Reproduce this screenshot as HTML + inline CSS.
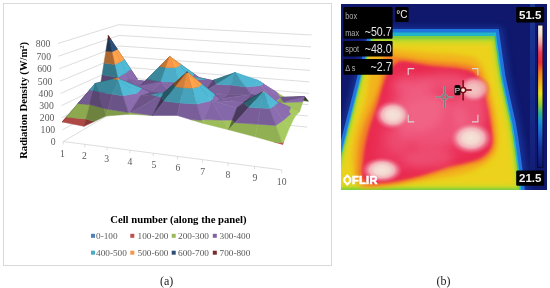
<!DOCTYPE html>
<html><head><meta charset="utf-8"><title>Radiation density and thermal image</title>
<style>
html,body{margin:0;padding:0;background:#fff;}
body{width:550px;height:288px;overflow:hidden;position:relative;}
svg{display:block;position:absolute;left:0;top:0;}
.ser{font-family:"Liberation Serif","Times New Roman",serif;}
.san{font-family:"Liberation Sans",Arial,sans-serif;}
</style></head><body>
<svg width="550" height="288" viewBox="0 0 550 288">
<defs>
<clipPath id="tclip"><rect x="341" y="4" width="206" height="186"/></clipPath>
<filter id="b1" x="-30%" y="-30%" width="160%" height="160%"><feGaussianBlur stdDeviation="0.7"/></filter>
<filter id="b2" x="-30%" y="-30%" width="160%" height="160%"><feGaussianBlur stdDeviation="1.4"/></filter>
<filter id="b3" x="-30%" y="-30%" width="160%" height="160%"><feGaussianBlur stdDeviation="2.2"/></filter>
<filter id="b4" x="-30%" y="-30%" width="160%" height="160%"><feGaussianBlur stdDeviation="3.2"/></filter>
<filter id="b5" x="-30%" y="-30%" width="160%" height="160%"><feGaussianBlur stdDeviation="5"/></filter>
<linearGradient id="cbar" x1="0" y1="0" x2="0" y2="1">
<stop offset="0" stop-color="#fbf3e6"/><stop offset="0.06" stop-color="#f7e0d2"/><stop offset="0.12" stop-color="#f2a0a0"/>
<stop offset="0.19" stop-color="#ee3a5c"/><stop offset="0.26" stop-color="#ea2a36"/><stop offset="0.33" stop-color="#f07a22"/>
<stop offset="0.42" stop-color="#f2b81c"/><stop offset="0.48" stop-color="#e8e01c"/><stop offset="0.55" stop-color="#9ad034"/>
<stop offset="0.62" stop-color="#30b090"/><stop offset="0.68" stop-color="#1a90d8"/><stop offset="0.76" stop-color="#1d60d0"/>
<stop offset="0.86" stop-color="#1534a0"/><stop offset="1" stop-color="#0d1670"/></linearGradient>
<radialGradient id="hs"><stop offset="0" stop-color="#f5e4da"/><stop offset="0.35" stop-color="#f4d8d0"/><stop offset="0.6" stop-color="#f2b0b8"/><stop offset="0.82" stop-color="#ee6e8a" stop-opacity="0.6"/><stop offset="1" stop-color="#ea4a6a" stop-opacity="0"/></radialGradient>
<linearGradient id="rband" x1="0" y1="0" x2="0" y2="1"><stop offset="0" stop-color="#1d3a98"/><stop offset="0.6" stop-color="#152a86"/><stop offset="1" stop-color="#101c70"/></linearGradient>
</defs>
<rect x="0" y="0" width="550" height="288" fill="#ffffff"/>
<!-- chart frame -->
<rect x="3.5" y="3.5" width="328" height="262" fill="#ffffff" stroke="#d9d9d9" stroke-width="1"/>
<!-- walls gridlines -->
<path d="M63.2 141.5L121.0 107.7L307.2 127.1M62.6 129.7L120.7 97.6L307.8 116.0M61.9 117.7L120.4 87.4L308.3 104.7M61.3 105.7L120.1 77.2L308.9 93.4M60.6 93.5L119.8 66.9L309.4 81.9M59.9 81.2L119.5 56.5L310.0 70.4M59.2 68.8L119.2 46.0L310.6 58.7M58.5 56.2L118.9 35.4L311.2 46.9M57.9 43.5L118.5 24.7L311.7 35.0" fill="none" stroke="#d9d9d9" stroke-width="0.9"/>
<path d="M63.2 141.5L281.7 169.9M63.2 141.5l0 3M84.8 144.3l0 3M107.0 147.2l0 3M129.8 150.2l0 3M153.3 153.2l0 3M177.5 156.3l0 3M202.4 159.6l0 3M228.0 162.9l0 3M254.5 166.3l0 3M281.7 169.9l0 3" fill="none" stroke="#d9d9d9" stroke-width="0.9"/>
<!-- surface -->
<g>
<polygon points="137.24,79.05 139.17,81.95 120.10,77.21 120.10,77.21" fill="#36411f" stroke="#36411f" stroke-width="0.5"/>
<polygon points="130.71,69.27 137.24,79.05 120.10,77.21 120.10,77.21 117.47,67.94" fill="#2c2338" stroke="#2c2338" stroke-width="0.5"/>
<polygon points="124.07,59.30 130.71,69.27 117.47,67.94 114.78,58.44" fill="#1a3c45" stroke="#1a3c45" stroke-width="0.5"/>
<polygon points="117.31,49.16 124.07,59.30 114.78,58.44 112.02,48.70" fill="#563418" stroke="#563418" stroke-width="0.5"/>
<polygon points="110.42,38.82 117.31,49.16 112.02,48.70 109.19,38.73" fill="#0f1a28" stroke="#0f1a28" stroke-width="0.5"/>
<polygon points="108.33,35.69 110.42,38.82 109.19,38.73" fill="#290f0e" stroke="#290f0e" stroke-width="0.5"/>
<polygon points="148.99,81.62 158.58,82.61 139.17,81.95 135.04,80.96" fill="#819c4a" stroke="#819c4a" stroke-width="0.5"/>
<polygon points="129.32,79.59 148.99,81.62 135.04,80.96" fill="#6b5387" stroke="#6b5387" stroke-width="0.5"/>
<polygon points="135.04,80.96 139.17,81.95 137.24,79.05" fill="#a8cb61" stroke="#a8cb61" stroke-width="0.5"/>
<polygon points="126.10,72.87 129.32,79.59 135.04,80.96 137.24,79.05 130.71,69.27" fill="#8b6db0" stroke="#8b6db0" stroke-width="0.5"/>
<polygon points="120.73,61.64 126.10,72.87 130.71,69.27 124.07,59.30" fill="#51bbd7" stroke="#51bbd7" stroke-width="0.5"/>
<polygon points="115.35,50.37 120.73,61.64 124.07,59.30 117.31,49.16" fill="#ffa34c" stroke="#ffa34c" stroke-width="0.5"/>
<polygon points="109.95,39.08 115.35,50.37 117.31,49.16 110.42,38.82" fill="#2f537f" stroke="#2f537f" stroke-width="0.5"/>
<polygon points="108.33,35.69 109.95,39.08 110.42,38.82" fill="#812f2d" stroke="#812f2d" stroke-width="0.5"/>
<polygon points="149.43,85.67 149.43,85.67 158.58,82.61 148.99,81.62" fill="#9dbe5a" stroke="#9dbe5a" stroke-width="0.5"/>
<polygon points="129.32,79.59 149.43,85.67 149.43,85.67 148.99,81.62" fill="#8265a5" stroke="#8265a5" stroke-width="0.5"/>
<polygon points="161.37,80.75 158.58,82.61 159.28,80.95" fill="#36411f" stroke="#36411f" stroke-width="0.5"/>
<polygon points="175.53,71.31 161.37,80.75 159.28,80.95 162.85,72.49" fill="#2c2338" stroke="#2c2338" stroke-width="0.5"/>
<polygon points="174.12,63.02 178.41,69.39 175.53,71.31 162.85,72.49 166.57,63.69" fill="#1a3c45" stroke="#1a3c45" stroke-width="0.5"/>
<polygon points="169.65,56.38 174.12,63.02 166.57,63.69" fill="#563418" stroke="#563418" stroke-width="0.5"/>
<polygon points="149.43,85.67 149.43,85.67 159.28,80.95 158.58,82.61" fill="#36411f" stroke="#36411f" stroke-width="0.5"/>
<polygon points="149.43,85.67 156.53,75.38 162.85,72.49 159.28,80.95 149.43,85.67" fill="#2c2338" stroke="#2c2338" stroke-width="0.5"/>
<polygon points="156.53,75.38 163.77,64.91 166.57,63.69 162.85,72.49" fill="#1a3c45" stroke="#1a3c45" stroke-width="0.5"/>
<polygon points="163.77,64.91 169.65,56.38 166.57,63.69" fill="#563418" stroke="#563418" stroke-width="0.5"/>
<polygon points="193.72,73.76 198.90,77.49 185.20,72.08" fill="#2c2338" stroke="#2c2338" stroke-width="0.5"/>
<polygon points="180.51,64.22 193.72,73.76 185.20,72.08 178.41,69.39 174.12,63.02" fill="#1a3c45" stroke="#1a3c45" stroke-width="0.5"/>
<polygon points="169.65,56.38 180.51,64.22 174.12,63.02" fill="#563418" stroke="#563418" stroke-width="0.5"/>
<polygon points="118.88,82.63 129.32,79.59 126.10,72.87 117.71,77.42" fill="#8b6db0" stroke="#8b6db0" stroke-width="0.5"/>
<polygon points="126.10,72.87 120.73,61.64 114.81,64.53 117.71,77.42" fill="#51bbd7" stroke="#51bbd7" stroke-width="0.5"/>
<polygon points="120.73,61.64 115.35,50.37 111.96,51.86 114.81,64.53" fill="#ffa34c" stroke="#ffa34c" stroke-width="0.5"/>
<polygon points="115.35,50.37 109.95,39.08 109.16,39.39 111.96,51.86" fill="#2f537f" stroke="#2f537f" stroke-width="0.5"/>
<polygon points="109.95,39.08 108.33,35.69 109.16,39.39" fill="#812f2d" stroke="#812f2d" stroke-width="0.5"/>
<polygon points="149.43,85.67 149.43,85.67 149.43,85.67" fill="#9bbb59" stroke="#9bbb59" stroke-width="0.5"/>
<polygon points="139.56,86.72 149.43,85.67 129.32,79.59" fill="#8064a2" stroke="#8064a2" stroke-width="0.5"/>
<polygon points="99.22,92.88 108.07,88.27 100.18,86.86" fill="#6b823e" stroke="#6b823e" stroke-width="0.5"/>
<polygon points="108.07,88.27 118.88,82.63 117.71,77.42 102.09,74.85 100.18,86.86" fill="#594570" stroke="#594570" stroke-width="0.5"/>
<polygon points="117.71,77.42 114.81,64.53 103.99,62.91 102.09,74.85" fill="#347789" stroke="#347789" stroke-width="0.5"/>
<polygon points="114.81,64.53 111.96,51.86 105.88,51.04 103.99,62.91" fill="#ac6830" stroke="#ac6830" stroke-width="0.5"/>
<polygon points="111.96,51.86 109.16,39.39 107.77,39.22 105.88,51.04" fill="#1e3551" stroke="#1e3551" stroke-width="0.5"/>
<polygon points="109.16,39.39 108.33,35.69 107.77,39.22" fill="#521e1d" stroke="#521e1d" stroke-width="0.5"/>
<polygon points="212.60,80.58 219.82,83.57 198.90,77.49" fill="#7a609b" stroke="#7a609b" stroke-width="0.5"/>
<polygon points="192.58,77.18 198.90,77.49 193.72,73.76" fill="#8b6db0" stroke="#8b6db0" stroke-width="0.5"/>
<polygon points="179.65,66.11 190.94,77.10 192.58,77.18 193.72,73.76 180.51,64.22" fill="#51bbd7" stroke="#51bbd7" stroke-width="0.5"/>
<polygon points="169.65,56.38 179.65,66.11 180.51,64.22" fill="#ffa34c" stroke="#ffa34c" stroke-width="0.5"/>
<polygon points="118.88,82.63 139.56,86.72 129.32,79.59" fill="#7c609d" stroke="#7c609d" stroke-width="0.5"/>
<polygon points="149.43,85.67 149.43,85.67 149.43,85.67" fill="#36411f" stroke="#36411f" stroke-width="0.5"/>
<polygon points="139.56,86.72 147.15,79.07 156.53,75.38 149.43,85.67" fill="#2c2338" stroke="#2c2338" stroke-width="0.5"/>
<polygon points="147.15,79.07 159.70,66.42 163.77,64.91 156.53,75.38" fill="#1a3c45" stroke="#1a3c45" stroke-width="0.5"/>
<polygon points="159.70,66.42 169.65,56.38 163.77,64.91" fill="#563418" stroke="#563418" stroke-width="0.5"/>
<polygon points="205.32,79.41 212.60,80.58 198.90,77.49 192.58,77.18" fill="#765c96" stroke="#765c96" stroke-width="0.5"/>
<polygon points="190.94,77.10 205.32,79.41 192.58,77.18" fill="#459fb7" stroke="#459fb7" stroke-width="0.5"/>
<polygon points="241.46,76.53 241.46,76.53 219.82,83.57 227.19,78.25" fill="#513f66" stroke="#513f66" stroke-width="0.5"/>
<polygon points="234.99,72.63 241.46,76.53 241.46,76.53 227.19,78.25" fill="#2f6d7d" stroke="#2f6d7d" stroke-width="0.5"/>
<polygon points="108.07,88.27 99.22,92.88 103.88,91.59" fill="#5f7336" stroke="#5f7336" stroke-width="0.5"/>
<polygon points="107.81,90.50 118.88,82.63 108.07,88.27 103.88,91.59" fill="#4f3d64" stroke="#4f3d64" stroke-width="0.5"/>
<polygon points="212.60,80.58 213.89,80.12 227.19,78.25 219.82,83.57" fill="#4f3e65" stroke="#4f3e65" stroke-width="0.5"/>
<polygon points="213.89,80.12 234.99,72.63 227.19,78.25" fill="#2e6b7b" stroke="#2e6b7b" stroke-width="0.5"/>
<polygon points="87.82,104.33 87.82,104.33 87.82,104.33" fill="#6b2c2b" stroke="#6b2c2b" stroke-width="0.5"/>
<polygon points="87.82,104.33 102.02,94.51 103.88,91.59 99.22,92.88" fill="#566831" stroke="#566831" stroke-width="0.5"/>
<polygon points="102.02,94.51 107.81,90.50 103.88,91.59" fill="#47375a" stroke="#47375a" stroke-width="0.5"/>
<polygon points="252.65,79.64 263.37,83.89 241.46,76.53 241.46,76.53" fill="#7c619e" stroke="#7c619e" stroke-width="0.5"/>
<polygon points="234.99,72.63 252.65,79.64 241.46,76.53 241.46,76.53" fill="#49a7c1" stroke="#49a7c1" stroke-width="0.5"/>
<polygon points="139.56,86.72 160.62,81.78 160.62,81.78 147.15,79.07" fill="#654f80" stroke="#654f80" stroke-width="0.5"/>
<polygon points="160.62,81.78 160.62,81.78 165.70,67.50 159.70,66.42 147.15,79.07" fill="#3b889c" stroke="#3b889c" stroke-width="0.5"/>
<polygon points="165.70,67.50 169.65,56.38 159.70,66.42" fill="#c37637" stroke="#c37637" stroke-width="0.5"/>
<polygon points="182.41,88.29 189.28,79.28 180.01,82.30" fill="#8b6db0" stroke="#8b6db0" stroke-width="0.5"/>
<polygon points="189.28,79.28 190.94,77.10 179.65,66.11 174.18,67.70 180.01,82.30" fill="#51bbd7" stroke="#51bbd7" stroke-width="0.5"/>
<polygon points="179.65,66.11 169.65,56.38 174.18,67.70" fill="#ffa34c" stroke="#ffa34c" stroke-width="0.5"/>
<polygon points="128.92,87.84 139.56,86.72 118.88,82.63" fill="#795f9a" stroke="#795f9a" stroke-width="0.5"/>
<polygon points="276.90,92.61 285.48,98.13 273.38,90.34" fill="#a7c960" stroke="#a7c960" stroke-width="0.5"/>
<polygon points="262.22,83.15 276.90,92.61 273.38,90.34 263.37,83.89 259.89,81.64" fill="#8a6cae" stroke="#8a6cae" stroke-width="0.5"/>
<polygon points="257.72,80.24 262.22,83.15 259.89,81.64" fill="#51b9d5" stroke="#51b9d5" stroke-width="0.5"/>
<polygon points="160.62,81.78 182.41,88.29 180.01,82.30 160.62,81.78" fill="#8165a3" stroke="#8165a3" stroke-width="0.5"/>
<polygon points="160.62,81.78 160.62,81.78 180.01,82.30 174.18,67.70 165.70,67.50" fill="#4badc7" stroke="#4badc7" stroke-width="0.5"/>
<polygon points="174.18,67.70 169.65,56.38 165.70,67.50" fill="#f99746" stroke="#f99746" stroke-width="0.5"/>
<polygon points="204.70,91.44 212.60,80.58 205.32,79.41 193.15,79.40" fill="#7e63a0" stroke="#7e63a0" stroke-width="0.5"/>
<polygon points="205.32,79.41 190.94,77.10 193.15,79.40" fill="#4aaac4" stroke="#4aaac4" stroke-width="0.5"/>
<polygon points="259.89,81.64 263.37,83.89 252.65,79.64" fill="#7c619e" stroke="#7c619e" stroke-width="0.5"/>
<polygon points="234.99,72.63 257.72,80.24 259.89,81.64 252.65,79.64" fill="#49a7c1" stroke="#49a7c1" stroke-width="0.5"/>
<polygon points="107.81,90.50 128.92,87.84 118.88,82.63" fill="#695285" stroke="#695285" stroke-width="0.5"/>
<polygon points="128.92,87.84 160.62,81.78 139.56,86.72" fill="#5c4874" stroke="#5c4874" stroke-width="0.5"/>
<polygon points="160.62,81.78 160.62,81.78 160.62,81.78" fill="#367b8e" stroke="#367b8e" stroke-width="0.5"/>
<polygon points="182.41,88.29 204.70,91.44 193.15,79.40 189.28,79.28" fill="#7d619e" stroke="#7d619e" stroke-width="0.5"/>
<polygon points="193.15,79.40 190.94,77.10 189.28,79.28" fill="#49a8c1" stroke="#49a8c1" stroke-width="0.5"/>
<polygon points="204.70,91.44 216.47,84.13 213.89,80.12 212.60,80.58" fill="#594571" stroke="#594571" stroke-width="0.5"/>
<polygon points="216.47,84.13 234.99,72.63 213.89,80.12" fill="#34788a" stroke="#34788a" stroke-width="0.5"/>
<polygon points="305.70,97.85 308.47,101.33 285.48,98.13 298.80,97.04" fill="#36411f" stroke="#36411f" stroke-width="0.5"/>
<polygon points="304.66,96.56 305.70,97.85 298.80,97.04" fill="#2c2338" stroke="#2c2338" stroke-width="0.5"/>
<polygon points="280.60,97.38 280.60,97.38 285.48,98.13 276.90,92.61" fill="#a8cb61" stroke="#a8cb61" stroke-width="0.5"/>
<polygon points="262.97,84.18 280.60,97.38 280.60,97.38 276.90,92.61 262.22,83.15" fill="#8b6db0" stroke="#8b6db0" stroke-width="0.5"/>
<polygon points="257.72,80.24 262.97,84.18 262.22,83.15" fill="#51bbd7" stroke="#51bbd7" stroke-width="0.5"/>
<polygon points="87.82,104.33 87.82,104.33 87.82,104.33" fill="#431c1a" stroke="#431c1a" stroke-width="0.5"/>
<polygon points="102.02,94.51 87.82,104.33 90.71,96.27" fill="#36411f" stroke="#36411f" stroke-width="0.5"/>
<polygon points="101.13,86.71 107.81,90.50 102.02,94.51 90.71,96.27 93.74,87.81" fill="#2c2338" stroke="#2c2338" stroke-width="0.5"/>
<polygon points="95.32,83.41 101.13,86.71 93.74,87.81" fill="#1a3c45" stroke="#1a3c45" stroke-width="0.5"/>
<polygon points="280.60,97.38 280.60,97.38 298.80,97.04 285.48,98.13" fill="#7c9647" stroke="#7c9647" stroke-width="0.5"/>
<polygon points="280.60,97.38 304.66,96.56 298.80,97.04 280.60,97.38" fill="#675082" stroke="#675082" stroke-width="0.5"/>
<polygon points="128.92,87.84 150.80,92.21 160.62,81.78" fill="#8064a2" stroke="#8064a2" stroke-width="0.5"/>
<polygon points="160.62,81.78 160.62,81.78 160.62,81.78" fill="#4bacc6" stroke="#4bacc6" stroke-width="0.5"/>
<polygon points="173.23,95.49 182.41,88.29 160.62,81.78" fill="#8568a8" stroke="#8568a8" stroke-width="0.5"/>
<polygon points="160.62,81.78 160.62,81.78 160.62,81.78" fill="#4eb2ce" stroke="#4eb2ce" stroke-width="0.5"/>
<polygon points="75.63,116.57 78.84,111.17 87.82,104.33 87.82,104.33" fill="#431c1a" stroke="#431c1a" stroke-width="0.5"/>
<polygon points="78.84,111.17 85.34,100.23 90.71,96.27 87.82,104.33 87.82,104.33" fill="#36411f" stroke="#36411f" stroke-width="0.5"/>
<polygon points="85.34,100.23 91.96,89.07 93.74,87.81 90.71,96.27" fill="#2c2338" stroke="#2c2338" stroke-width="0.5"/>
<polygon points="91.96,89.07 95.32,83.41 93.74,87.81" fill="#1a3c45" stroke="#1a3c45" stroke-width="0.5"/>
<polygon points="204.70,91.44 227.57,94.68 230.81,85.07 216.47,84.13" fill="#7b609c" stroke="#7b609c" stroke-width="0.5"/>
<polygon points="230.81,85.07 234.99,72.63 216.47,84.13" fill="#48a6bf" stroke="#48a6bf" stroke-width="0.5"/>
<polygon points="251.14,94.41 254.95,86.20 245.59,86.93" fill="#896bae" stroke="#896bae" stroke-width="0.5"/>
<polygon points="254.95,86.20 257.72,80.24 234.99,72.63 245.59,86.93" fill="#50b8d4" stroke="#50b8d4" stroke-width="0.5"/>
<polygon points="150.80,92.21 173.23,95.49 160.62,81.78" fill="#7d619e" stroke="#7d619e" stroke-width="0.5"/>
<polygon points="160.62,81.78 160.62,81.78 160.62,81.78" fill="#49a8c1" stroke="#49a8c1" stroke-width="0.5"/>
<polygon points="227.57,94.68 251.14,94.41 245.59,86.93 230.81,85.07" fill="#725990" stroke="#725990" stroke-width="0.5"/>
<polygon points="245.59,86.93 234.99,72.63 230.81,85.07" fill="#4399b1" stroke="#4399b1" stroke-width="0.5"/>
<polygon points="127.17,86.40 128.92,87.84 107.81,90.50 110.96,86.28" fill="#2c2338" stroke="#2c2338" stroke-width="0.5"/>
<polygon points="118.03,78.86 127.17,86.40 110.96,86.28 116.51,78.85" fill="#1a3c45" stroke="#1a3c45" stroke-width="0.5"/>
<polygon points="117.08,78.08 118.03,78.86 116.51,78.85" fill="#563418" stroke="#563418" stroke-width="0.5"/>
<polygon points="196.25,94.02 204.70,91.44 182.41,88.29" fill="#775d97" stroke="#775d97" stroke-width="0.5"/>
<polygon points="275.02,105.03 280.60,97.38 280.60,97.38 273.73,103.18" fill="#a8cb61" stroke="#a8cb61" stroke-width="0.5"/>
<polygon points="280.60,97.38 280.60,97.38 262.97,84.18 261.30,85.37 273.73,103.18" fill="#8b6db0" stroke="#8b6db0" stroke-width="0.5"/>
<polygon points="262.97,84.18 257.72,80.24 261.30,85.37" fill="#51bbd7" stroke="#51bbd7" stroke-width="0.5"/>
<polygon points="173.23,95.49 196.25,94.02 182.41,88.29" fill="#6c5489" stroke="#6c5489" stroke-width="0.5"/>
<polygon points="110.96,86.28 107.81,90.50 101.13,86.71" fill="#2c2338" stroke="#2c2338" stroke-width="0.5"/>
<polygon points="95.32,83.41 113.40,78.98 116.51,78.85 110.96,86.28 101.13,86.71" fill="#1a3c45" stroke="#1a3c45" stroke-width="0.5"/>
<polygon points="113.40,78.98 117.08,78.08 116.51,78.85" fill="#563418" stroke="#563418" stroke-width="0.5"/>
<polygon points="196.25,94.02 227.57,94.68 204.70,91.44" fill="#775d97" stroke="#775d97" stroke-width="0.5"/>
<polygon points="142.02,88.53 150.80,92.21 128.92,87.84 127.17,86.40" fill="#2c2338" stroke="#2c2338" stroke-width="0.5"/>
<polygon points="119.40,79.05 142.02,88.53 127.17,86.40 118.03,78.86" fill="#1a3c45" stroke="#1a3c45" stroke-width="0.5"/>
<polygon points="117.08,78.08 119.40,79.05 118.03,78.86" fill="#563418" stroke="#563418" stroke-width="0.5"/>
<polygon points="275.02,105.03 283.62,102.57 280.60,97.38 280.60,97.38" fill="#85a14c" stroke="#85a14c" stroke-width="0.5"/>
<polygon points="283.62,102.57 304.66,96.56 280.60,97.38 280.60,97.38" fill="#6e568b" stroke="#6e568b" stroke-width="0.5"/>
<polygon points="271.58,103.50 275.02,105.03 273.73,103.18" fill="#a8cb61" stroke="#a8cb61" stroke-width="0.5"/>
<polygon points="251.14,94.41 271.58,103.50 273.73,103.18 261.30,85.37 254.95,86.20" fill="#8b6db0" stroke="#8b6db0" stroke-width="0.5"/>
<polygon points="261.30,85.37 257.72,80.24 254.95,86.20" fill="#51bbd7" stroke="#51bbd7" stroke-width="0.5"/>
<polygon points="62.15,121.94 66.26,117.16 78.84,111.17 75.63,116.57" fill="#431c1a" stroke="#431c1a" stroke-width="0.5"/>
<polygon points="66.26,117.16 77.95,103.59 85.34,100.23 78.84,111.17" fill="#36411f" stroke="#36411f" stroke-width="0.5"/>
<polygon points="77.95,103.59 89.55,90.12 91.96,89.07 85.34,100.23" fill="#2c2338" stroke="#2c2338" stroke-width="0.5"/>
<polygon points="89.55,90.12 95.32,83.41 91.96,89.07" fill="#1a3c45" stroke="#1a3c45" stroke-width="0.5"/>
<polygon points="219.93,98.65 251.14,94.41 227.57,94.68" fill="#6d558a" stroke="#6d558a" stroke-width="0.5"/>
<polygon points="166.16,93.96 173.23,95.49 150.80,92.21 158.92,92.94" fill="#725990" stroke="#725990" stroke-width="0.5"/>
<polygon points="163.22,93.32 166.16,93.96 158.92,92.94" fill="#4299b0" stroke="#4299b0" stroke-width="0.5"/>
<polygon points="275.02,105.03 299.59,111.62 302.89,101.82 283.62,102.57" fill="#a1c25c" stroke="#a1c25c" stroke-width="0.5"/>
<polygon points="302.89,101.82 304.66,96.56 283.62,102.57" fill="#8568a8" stroke="#8568a8" stroke-width="0.5"/>
<polygon points="136.54,93.29 140.10,96.07 150.80,92.21 142.02,88.53" fill="#8b6db0" stroke="#8b6db0" stroke-width="0.5"/>
<polygon points="118.84,79.46 136.54,93.29 142.02,88.53 119.40,79.05" fill="#51bbd7" stroke="#51bbd7" stroke-width="0.5"/>
<polygon points="117.08,78.08 118.84,79.46 119.40,79.05" fill="#ffa34c" stroke="#ffa34c" stroke-width="0.5"/>
<polygon points="196.25,94.02 219.93,98.65 227.57,94.68" fill="#7c609d" stroke="#7c609d" stroke-width="0.5"/>
<polygon points="62.15,121.94 83.99,126.31 85.92,119.02 66.26,117.16" fill="#ad4845" stroke="#ad4845" stroke-width="0.5"/>
<polygon points="85.92,119.02 89.72,104.61 77.95,103.59 66.26,117.16" fill="#8ca950" stroke="#8ca950" stroke-width="0.5"/>
<polygon points="89.72,104.61 93.46,90.43 89.55,90.12 77.95,103.59" fill="#735a92" stroke="#735a92" stroke-width="0.5"/>
<polygon points="93.46,90.43 95.32,83.41 89.55,90.12" fill="#439bb3" stroke="#439bb3" stroke-width="0.5"/>
<polygon points="140.10,96.07 151.57,94.71 158.92,92.94 150.80,92.21" fill="#654f80" stroke="#654f80" stroke-width="0.5"/>
<polygon points="151.57,94.71 163.22,93.32 158.92,92.94" fill="#3b889d" stroke="#3b889d" stroke-width="0.5"/>
<polygon points="105.88,116.03 107.90,109.19 103.36,108.26" fill="#799245" stroke="#799245" stroke-width="0.5"/>
<polygon points="107.90,109.19 112.32,94.21 97.94,91.52 103.36,108.26" fill="#644e7f" stroke="#644e7f" stroke-width="0.5"/>
<polygon points="112.32,94.21 116.65,79.53 113.40,78.98 95.32,83.41 97.94,91.52" fill="#3a869b" stroke="#3a869b" stroke-width="0.5"/>
<polygon points="116.65,79.53 117.08,78.08 113.40,78.98" fill="#c17536" stroke="#c17536" stroke-width="0.5"/>
<polygon points="83.99,126.31 94.31,121.47 85.92,119.02" fill="#863835" stroke="#863835" stroke-width="0.5"/>
<polygon points="94.31,121.47 105.88,116.03 103.36,108.26 89.72,104.61 85.92,119.02" fill="#6c823e" stroke="#6c823e" stroke-width="0.5"/>
<polygon points="103.36,108.26 97.94,91.52 93.46,90.43 89.72,104.61" fill="#594671" stroke="#594671" stroke-width="0.5"/>
<polygon points="97.94,91.52 95.32,83.41 93.46,90.43" fill="#34788a" stroke="#34788a" stroke-width="0.5"/>
<polygon points="219.93,98.65 244.25,102.16 251.14,94.41" fill="#7b609c" stroke="#7b609c" stroke-width="0.5"/>
<polygon points="274.53,104.43 275.02,105.03 271.58,103.50" fill="#97b656" stroke="#97b656" stroke-width="0.5"/>
<polygon points="269.49,98.20 274.53,104.43 271.58,103.50 251.14,94.41" fill="#7d619e" stroke="#7d619e" stroke-width="0.5"/>
<polygon points="269.49,98.20 269.49,98.20 269.49,98.20" fill="#49a8c1" stroke="#49a8c1" stroke-width="0.5"/>
<polygon points="195.47,92.15 196.25,94.02 173.23,95.49 175.80,91.12" fill="#2c2338" stroke="#2c2338" stroke-width="0.5"/>
<polygon points="191.47,82.53 195.47,92.15 175.80,91.12 181.14,82.02" fill="#1a3c45" stroke="#1a3c45" stroke-width="0.5"/>
<polygon points="187.27,72.46 191.47,82.53 181.14,82.02 186.77,72.44" fill="#563418" stroke="#563418" stroke-width="0.5"/>
<polygon points="187.06,71.94 187.27,72.46 186.77,72.44" fill="#0f1a28" stroke="#0f1a28" stroke-width="0.5"/>
<polygon points="290.46,107.55 299.59,111.62 275.02,105.03 274.53,104.43" fill="#8ca950" stroke="#8ca950" stroke-width="0.5"/>
<polygon points="269.49,98.20 290.46,107.55 274.53,104.43" fill="#735a92" stroke="#735a92" stroke-width="0.5"/>
<polygon points="269.49,98.20 269.49,98.20 269.49,98.20" fill="#439bb3" stroke="#439bb3" stroke-width="0.5"/>
<polygon points="244.25,102.16 269.49,98.20 251.14,94.41" fill="#644e7f" stroke="#644e7f" stroke-width="0.5"/>
<polygon points="269.49,98.20 269.49,98.20 269.49,98.20" fill="#3a879b" stroke="#3a879b" stroke-width="0.5"/>
<polygon points="128.88,114.19 130.17,112.12 128.33,112.48" fill="#a8cb61" stroke="#a8cb61" stroke-width="0.5"/>
<polygon points="130.17,112.12 140.10,96.07 136.54,93.29 122.86,95.76 128.33,112.48" fill="#8b6db0" stroke="#8b6db0" stroke-width="0.5"/>
<polygon points="136.54,93.29 118.84,79.46 117.60,79.66 122.86,95.76" fill="#51bbd7" stroke="#51bbd7" stroke-width="0.5"/>
<polygon points="118.84,79.46 117.08,78.08 117.60,79.66" fill="#ffa34c" stroke="#ffa34c" stroke-width="0.5"/>
<polygon points="175.80,91.12 173.23,95.49 166.16,93.96" fill="#2c2338" stroke="#2c2338" stroke-width="0.5"/>
<polygon points="163.22,93.32 173.39,84.21 181.14,82.02 175.80,91.12 166.16,93.96" fill="#1a3c45" stroke="#1a3c45" stroke-width="0.5"/>
<polygon points="173.39,84.21 186.40,72.54 186.77,72.44 181.14,82.02" fill="#563418" stroke="#563418" stroke-width="0.5"/>
<polygon points="186.40,72.54 187.06,71.94 186.77,72.44" fill="#0f1a28" stroke="#0f1a28" stroke-width="0.5"/>
<polygon points="214.73,94.42 219.93,98.65 196.25,94.02 195.47,92.15" fill="#2c2338" stroke="#2c2338" stroke-width="0.5"/>
<polygon points="201.45,83.64 214.73,94.42 195.47,92.15 191.47,82.53" fill="#1a3c45" stroke="#1a3c45" stroke-width="0.5"/>
<polygon points="187.76,72.51 201.45,83.64 191.47,82.53 187.27,72.46" fill="#563418" stroke="#563418" stroke-width="0.5"/>
<polygon points="187.06,71.94 187.76,72.51 187.27,72.46" fill="#0f1a28" stroke="#0f1a28" stroke-width="0.5"/>
<polygon points="105.88,116.03 128.88,114.19 128.33,112.48 107.90,109.19" fill="#809b4a" stroke="#809b4a" stroke-width="0.5"/>
<polygon points="128.33,112.48 122.86,95.76 112.32,94.21 107.90,109.19" fill="#6a5386" stroke="#6a5386" stroke-width="0.5"/>
<polygon points="122.86,95.76 117.60,79.66 116.65,79.53 112.32,94.21" fill="#3e8fa4" stroke="#3e8fa4" stroke-width="0.5"/>
<polygon points="117.60,79.66 117.08,78.08 116.65,79.53" fill="#cd7c3a" stroke="#cd7c3a" stroke-width="0.5"/>
<polygon points="128.88,114.19 131.57,112.56 130.17,112.12" fill="#829d4b" stroke="#829d4b" stroke-width="0.5"/>
<polygon points="131.57,112.56 158.02,96.48 151.57,94.71 140.10,96.07 130.17,112.12" fill="#6c5488" stroke="#6c5488" stroke-width="0.5"/>
<polygon points="158.02,96.48 163.22,93.32 151.57,94.71" fill="#3f91a7" stroke="#3f91a7" stroke-width="0.5"/>
<polygon points="211.66,100.40 244.25,102.16 219.93,98.65" fill="#765c95" stroke="#765c95" stroke-width="0.5"/>
<polygon points="211.66,100.40 211.66,100.40 211.66,100.40" fill="#459fb7" stroke="#459fb7" stroke-width="0.5"/>
<polygon points="288.78,112.70 294.61,117.08 299.59,111.62 290.46,107.55" fill="#a8cb61" stroke="#a8cb61" stroke-width="0.5"/>
<polygon points="269.49,98.20 288.78,112.70 290.46,107.55" fill="#8b6db0" stroke="#8b6db0" stroke-width="0.5"/>
<polygon points="269.49,98.20 269.49,98.20 269.49,98.20" fill="#51bbd7" stroke="#51bbd7" stroke-width="0.5"/>
<polygon points="211.66,100.40 211.66,100.40 219.93,98.65 214.73,94.42" fill="#8b6db0" stroke="#8b6db0" stroke-width="0.5"/>
<polygon points="199.64,86.49 211.66,100.40 211.66,100.40 214.73,94.42 201.45,83.64" fill="#51bbd7" stroke="#51bbd7" stroke-width="0.5"/>
<polygon points="187.66,72.64 199.64,86.49 201.45,83.64 187.76,72.51" fill="#ffa34c" stroke="#ffa34c" stroke-width="0.5"/>
<polygon points="187.06,71.94 187.66,72.64 187.76,72.51" fill="#2f537f" stroke="#2f537f" stroke-width="0.5"/>
<polygon points="128.88,114.19 152.70,115.49 152.70,115.49 131.57,112.56" fill="#8fac52" stroke="#8fac52" stroke-width="0.5"/>
<polygon points="152.70,115.49 152.70,115.49 161.51,96.92 158.02,96.48 131.57,112.56" fill="#765c95" stroke="#765c95" stroke-width="0.5"/>
<polygon points="161.51,96.92 163.22,93.32 158.02,96.48" fill="#459eb6" stroke="#459eb6" stroke-width="0.5"/>
<polygon points="152.70,115.49 152.70,115.49 152.70,115.49" fill="#4d5d2c" stroke="#4d5d2c" stroke-width="0.5"/>
<polygon points="152.70,115.49 164.04,101.12 161.51,96.92" fill="#403251" stroke="#403251" stroke-width="0.5"/>
<polygon points="164.04,101.12 175.31,86.84 173.39,84.21 163.22,93.32 161.51,96.92" fill="#255663" stroke="#255663" stroke-width="0.5"/>
<polygon points="175.31,86.84 186.50,72.65 186.40,72.54 173.39,84.21" fill="#7b4b23" stroke="#7b4b23" stroke-width="0.5"/>
<polygon points="186.50,72.65 187.06,71.94 186.40,72.54" fill="#16263a" stroke="#16263a" stroke-width="0.5"/>
<polygon points="211.66,100.40 236.85,107.96 244.25,102.16" fill="#8366a6" stroke="#8366a6" stroke-width="0.5"/>
<polygon points="211.66,100.40 211.66,100.40 211.66,100.40" fill="#4db0cb" stroke="#4db0cb" stroke-width="0.5"/>
<polygon points="269.49,98.20 269.49,98.20 244.25,102.16 250.16,98.83" fill="#2c2338" stroke="#2c2338" stroke-width="0.5"/>
<polygon points="263.71,91.72 269.49,98.20 269.49,98.20 250.16,98.83 262.75,91.75" fill="#1a3c45" stroke="#1a3c45" stroke-width="0.5"/>
<polygon points="263.41,91.38 263.71,91.72 262.75,91.75" fill="#563418" stroke="#563418" stroke-width="0.5"/>
<polygon points="236.85,107.96 244.05,103.46 250.16,98.83 244.25,102.16" fill="#413353" stroke="#413353" stroke-width="0.5"/>
<polygon points="244.05,103.46 262.47,91.96 262.75,91.75 250.16,98.83" fill="#265865" stroke="#265865" stroke-width="0.5"/>
<polygon points="262.47,91.96 263.41,91.38 262.75,91.75" fill="#7f4d24" stroke="#7f4d24" stroke-width="0.5"/>
<polygon points="290.76,113.91 294.61,117.08 288.78,112.70" fill="#a6c85f" stroke="#a6c85f" stroke-width="0.5"/>
<polygon points="277.65,103.11 290.76,113.91 288.78,112.70 269.49,98.20 269.49,98.20" fill="#896bad" stroke="#896bad" stroke-width="0.5"/>
<polygon points="264.10,91.95 277.65,103.11 269.49,98.20 269.49,98.20 263.71,91.72" fill="#50b8d4" stroke="#50b8d4" stroke-width="0.5"/>
<polygon points="263.41,91.38 264.10,91.95 263.71,91.72" fill="#ffa14b" stroke="#ffa14b" stroke-width="0.5"/>
<polygon points="152.70,115.49 152.70,115.49 152.70,115.49" fill="#839f4b" stroke="#839f4b" stroke-width="0.5"/>
<polygon points="152.70,115.49 177.25,115.53 180.06,103.07 164.04,101.12" fill="#6c5589" stroke="#6c5589" stroke-width="0.5"/>
<polygon points="180.06,103.07 183.50,87.74 175.31,86.84 164.04,101.12" fill="#3f92a8" stroke="#3f92a8" stroke-width="0.5"/>
<polygon points="183.50,87.74 186.89,72.69 186.50,72.65 175.31,86.84" fill="#d27f3b" stroke="#d27f3b" stroke-width="0.5"/>
<polygon points="186.89,72.69 187.06,71.94 186.50,72.65" fill="#254163" stroke="#254163" stroke-width="0.5"/>
<polygon points="202.56,123.19 203.99,119.61 201.67,120.23" fill="#a8cb61" stroke="#a8cb61" stroke-width="0.5"/>
<polygon points="203.99,119.61 211.66,100.40 211.66,100.40 196.76,104.01 201.67,120.23" fill="#8b6db0" stroke="#8b6db0" stroke-width="0.5"/>
<polygon points="211.66,100.40 211.66,100.40 199.64,86.49 191.97,88.17 196.76,104.01" fill="#51bbd7" stroke="#51bbd7" stroke-width="0.5"/>
<polygon points="199.64,86.49 187.66,72.64 187.29,72.71 191.97,88.17" fill="#ffa34c" stroke="#ffa34c" stroke-width="0.5"/>
<polygon points="187.66,72.64 187.06,71.94 187.29,72.71" fill="#2f537f" stroke="#2f537f" stroke-width="0.5"/>
<polygon points="190.49,119.54 202.56,123.19 201.67,120.23" fill="#92b154" stroke="#92b154" stroke-width="0.5"/>
<polygon points="177.25,115.53 190.49,119.54 201.67,120.23 196.76,104.01 180.06,103.07" fill="#795e99" stroke="#795e99" stroke-width="0.5"/>
<polygon points="196.76,104.01 191.97,88.17 183.50,87.74 180.06,103.07" fill="#47a3bb" stroke="#47a3bb" stroke-width="0.5"/>
<polygon points="191.97,88.17 187.29,72.71 186.89,72.69 183.50,87.74" fill="#ea8e42" stroke="#ea8e42" stroke-width="0.5"/>
<polygon points="187.29,72.71 187.06,71.94 186.89,72.69" fill="#29486e" stroke="#29486e" stroke-width="0.5"/>
<polygon points="228.56,129.74 232.23,120.09 223.06,120.18" fill="#a2c35d" stroke="#a2c35d" stroke-width="0.5"/>
<polygon points="232.23,120.09 236.85,107.96 211.66,100.40 223.06,120.18" fill="#8568a9" stroke="#8568a9" stroke-width="0.5"/>
<polygon points="211.66,100.40 211.66,100.40 211.66,100.40" fill="#4eb3cf" stroke="#4eb3cf" stroke-width="0.5"/>
<polygon points="283.17,120.41 288.95,128.92 294.61,117.08 290.76,113.91" fill="#a8cb61" stroke="#a8cb61" stroke-width="0.5"/>
<polygon points="273.53,106.25 283.17,120.41 290.76,113.91 277.65,103.11" fill="#8b6db0" stroke="#8b6db0" stroke-width="0.5"/>
<polygon points="263.89,92.09 273.53,106.25 277.65,103.11 264.10,91.95" fill="#51bbd7" stroke="#51bbd7" stroke-width="0.5"/>
<polygon points="263.41,91.38 263.89,92.09 264.10,91.95" fill="#ffa34c" stroke="#ffa34c" stroke-width="0.5"/>
<polygon points="202.56,123.19 228.56,129.74 223.06,120.18 203.99,119.61" fill="#9dbd5a" stroke="#9dbd5a" stroke-width="0.5"/>
<polygon points="223.06,120.18 211.66,100.40 203.99,119.61" fill="#8265a4" stroke="#8265a4" stroke-width="0.5"/>
<polygon points="211.66,100.40 211.66,100.40 211.66,100.40" fill="#4caec9" stroke="#4caec9" stroke-width="0.5"/>
<polygon points="228.56,129.74 235.02,122.63 232.23,120.09" fill="#596b33" stroke="#596b33" stroke-width="0.5"/>
<polygon points="235.02,122.63 248.94,107.30 244.05,103.46 236.85,107.96 232.23,120.09" fill="#49395d" stroke="#49395d" stroke-width="0.5"/>
<polygon points="248.94,107.30 262.72,92.13 262.47,91.96 244.05,103.46" fill="#2b6271" stroke="#2b6271" stroke-width="0.5"/>
<polygon points="262.72,92.13 263.41,91.38 262.47,91.96" fill="#8e5628" stroke="#8e5628" stroke-width="0.5"/>
<polygon points="228.56,129.74 255.27,136.86 257.54,124.20 235.02,122.63" fill="#91af53" stroke="#91af53" stroke-width="0.5"/>
<polygon points="257.54,124.20 260.43,108.03 248.94,107.30 235.02,122.63" fill="#785d98" stroke="#785d98" stroke-width="0.5"/>
<polygon points="260.43,108.03 263.27,92.16 262.72,92.13 248.94,107.30" fill="#46a1b9" stroke="#46a1b9" stroke-width="0.5"/>
<polygon points="263.27,92.16 263.41,91.38 262.72,92.13" fill="#e78c41" stroke="#e78c41" stroke-width="0.5"/>
<polygon points="282.72,144.46 284.00,141.25 282.08,142.71" fill="#d15753" stroke="#d15753" stroke-width="0.5"/>
<polygon points="284.00,141.25 288.95,128.92 283.17,120.41 275.80,125.43 282.08,142.71" fill="#a8cb61" stroke="#a8cb61" stroke-width="0.5"/>
<polygon points="283.17,120.41 273.53,106.25 269.67,108.60 275.80,125.43" fill="#8b6db0" stroke="#8b6db0" stroke-width="0.5"/>
<polygon points="273.53,106.25 263.89,92.09 263.70,92.19 269.67,108.60" fill="#51bbd7" stroke="#51bbd7" stroke-width="0.5"/>
<polygon points="263.89,92.09 263.41,91.38 263.70,92.19" fill="#ffa34c" stroke="#ffa34c" stroke-width="0.5"/>
<polygon points="274.32,142.14 282.72,144.46 282.08,142.71" fill="#b44b48" stroke="#b44b48" stroke-width="0.5"/>
<polygon points="255.27,136.86 274.32,142.14 282.08,142.71 275.80,125.43 257.54,124.20" fill="#91b053" stroke="#91b053" stroke-width="0.5"/>
<polygon points="275.80,125.43 269.67,108.60 260.43,108.03 257.54,124.20" fill="#785e98" stroke="#785e98" stroke-width="0.5"/>
<polygon points="269.67,108.60 263.70,92.19 263.27,92.16 260.43,108.03" fill="#46a1ba" stroke="#46a1ba" stroke-width="0.5"/>
<polygon points="263.70,92.19 263.41,91.38 263.27,92.16" fill="#e88d41" stroke="#e88d41" stroke-width="0.5"/>
</g>
<!-- value axis labels -->
<g class="ser" font-size="9.7" fill="#595959">
<text x="55.7" y="144.8" text-anchor="end">0</text>
<text x="55.1" y="133.0" text-anchor="end">100</text>
<text x="54.4" y="121.0" text-anchor="end">200</text>
<text x="53.8" y="109.0" text-anchor="end">300</text>
<text x="53.1" y="96.8" text-anchor="end">400</text>
<text x="52.4" y="84.5" text-anchor="end">500</text>
<text x="51.7" y="72.1" text-anchor="end">600</text>
<text x="51.0" y="59.5" text-anchor="end">700</text>
<text x="50.4" y="46.8" text-anchor="end">800</text>
</g>
<g class="ser" font-size="9.7" fill="#595959">
<text x="62.3" y="156.5" text-anchor="middle">1</text>
<text x="84.4" y="159.3" text-anchor="middle">2</text>
<text x="106.6" y="162.2" text-anchor="middle">3</text>
<text x="129.8" y="165.2" text-anchor="middle">4</text>
<text x="153.8" y="168.2" text-anchor="middle">5</text>
<text x="177.8" y="171.3" text-anchor="middle">6</text>
<text x="202.6" y="174.6" text-anchor="middle">7</text>
<text x="227.8" y="177.9" text-anchor="middle">8</text>
<text x="254.8" y="181.3" text-anchor="middle">9</text>
<text x="281.7" y="184.9" text-anchor="middle">10</text>
</g>
<text class="ser" font-weight="bold" font-size="10.6" fill="#000" transform="translate(27.3,158.8) rotate(-90)">Radiation Density (W/m<tspan font-size="6.5" dy="-3.5">2</tspan><tspan dy="3.5">)</tspan></text>
<text class="ser" font-weight="bold" font-size="10.7" fill="#000" x="110.2" y="222.8">Cell number (along the panel)</text>
<!-- legend -->
<g class="ser" font-size="9.25" fill="#595959">
<rect x="91" y="233.8" width="4" height="4" fill="#4F81BD"/><text x="96" y="239">0-100</text>
<rect x="130.3" y="233.8" width="4" height="4" fill="#C0504D"/><text x="137.6" y="239">100-200</text>
<rect x="171.7" y="233.8" width="4" height="4" fill="#9BBB59"/><text x="178.1" y="239">200-300</text>
<rect x="212.8" y="233.8" width="4" height="4" fill="#8064A2"/><text x="219.5" y="239">300-400</text>
<rect x="91" y="250.7" width="4" height="4" fill="#4BACC6"/><text x="96" y="256">400-500</text>
<rect x="130.3" y="250.7" width="4" height="4" fill="#F79646"/><text x="137.6" y="256">500-600</text>
<rect x="171.7" y="250.7" width="4" height="4" fill="#2C4D75"/><text x="178.1" y="256">600-700</text>
<rect x="212.8" y="250.7" width="4" height="4" fill="#772C2A"/><text x="219.5" y="256">700-800</text>
</g>
<!-- thermal image -->
<g clip-path="url(#tclip)">
<rect x="341" y="4" width="206" height="186" fill="#0f186c"/>
<rect x="530" y="4" width="5" height="186" fill="url(#rband)" filter="url(#b1)" opacity="0.9"/>
<path d="M366.9 27.0L502.4 27.0L504.6 42.7L506.9 58.5L509.1 74.2L512.4 89.9L515.9 105.6L519.4 121.4L522.1 137.1L524.4 152.8L526.4 168.5L528.2 184.3L530.0 200.0L322.8 200.0Z" fill="#1c3ca8" opacity="0.7" filter="url(#b4)"/>
<path d="M369.4 29.0L498.7 29.0L500.9 44.5L503.1 60.1L505.3 75.6L508.7 91.2L512.1 106.7L515.6 122.3L518.2 137.8L520.4 153.4L522.4 168.9L524.2 184.5L526.0 200.0L325.8 200.0Z" fill="#2374de" filter="url(#b1)"/>
<path d="M371.7 32.5L495.8 32.5L497.9 47.7L500.1 63.0L502.5 78.2L505.8 93.4L509.1 108.6L512.5 123.9L515.0 139.1L517.2 154.3L519.1 169.5L520.9 184.8L522.6 200.0L329.0 200.0Z" fill="#22b4c8" filter="url(#b1)"/>
<path d="M372.1 36.0L494.5 36.0L496.6 50.9L498.7 65.8L501.2 80.7L504.4 95.6L507.8 110.5L511.1 125.5L513.4 140.4L515.5 155.3L517.4 170.2L519.1 185.1L520.8 200.0L330.3 200.0Z" fill="#7ccc40" filter="url(#b1)"/>
<path d="M372.5 39.5L493.7 39.5L495.6 53.0L497.5 66.5L499.8 80.0L502.7 93.5L505.7 107.0L508.7 120.5L511.1 134.0L513.1 147.5L515.0 161.0L516.6 174.5L518.1 188.0L334.6 188.0Z" fill="#c8da28" filter="url(#b2)"/>
<path d="M373.5 44.0L491.3 44.0L493.1 56.8L494.9 69.6L497.3 82.5L500.1 95.3L502.9 108.1L505.8 120.9L508.1 133.7L510.0 146.5L511.7 159.4L513.3 172.2L514.8 185.0L337.6 185.0Z" fill="#ecd21c" filter="url(#b3)"/>
<path d="M372.0 48.0C377.0 44.7 390.3 49.2 400.0 50.0C409.7 50.8 420.0 52.2 430.0 53.0C440.0 53.8 452.0 53.8 460.0 55.0C468.0 56.2 473.3 55.8 478.0 60.0C482.7 64.2 485.2 71.7 488.0 80.0C490.8 88.3 493.3 100.8 495.0 110.0C496.7 119.2 497.8 128.0 498.0 135.0C498.2 142.0 497.8 147.3 496.0 152.0C494.2 156.7 491.3 159.7 487.0 163.0C482.7 166.3 476.2 169.7 470.0 172.0C463.8 174.3 458.3 175.5 450.0 177.0C441.7 178.5 430.8 179.7 420.0 181.0C409.2 182.3 395.0 184.2 385.0 185.0C375.0 185.8 365.5 190.2 360.0 186.0C354.5 181.8 352.7 169.3 352.0 160.0C351.3 150.7 353.7 140.0 356.0 130.0C358.3 120.0 363.7 110.0 366.0 100.0C368.3 90.0 369.0 78.7 370.0 70.0C371.0 61.3 367.0 51.3 372.0 48.0Z" fill="#f2b41e" filter="url(#b3)"/>
<path d="M384.0 56.0C387.2 52.2 392.3 56.2 400.0 57.0C407.7 57.8 420.0 59.9 430.0 61.0C440.0 62.1 452.3 62.3 460.0 63.5C467.7 64.7 472.0 64.9 476.0 68.0C480.0 71.1 481.7 75.8 484.0 82.0C486.3 88.2 488.3 97.0 490.0 105.0C491.7 113.0 493.3 122.8 494.0 130.0C494.7 137.2 495.7 143.0 494.0 148.0C492.3 153.0 488.7 157.0 484.0 160.0C479.3 163.0 472.5 164.2 466.0 166.0C459.5 167.8 453.0 168.8 445.0 171.0C437.0 173.2 428.0 176.6 418.0 179.0C408.0 181.4 394.7 184.8 385.0 185.5C375.3 186.2 364.5 188.1 360.0 183.0C355.5 177.9 357.5 164.2 358.0 155.0C358.5 145.8 360.5 136.7 363.0 128.0C365.5 119.3 370.0 111.0 373.0 103.0C376.0 95.0 379.2 87.8 381.0 80.0C382.8 72.2 380.8 59.8 384.0 56.0Z" fill="#f27f26" filter="url(#b3)"/>
<path d="M404.0 61.0C409.7 61.4 420.7 64.2 430.0 65.5C439.3 66.8 452.7 67.2 460.0 68.5C467.3 69.8 470.5 70.4 474.0 73.0C477.5 75.6 479.0 79.5 481.0 84.0C483.0 88.5 484.3 93.2 486.0 100.0C487.7 106.8 490.0 117.5 491.0 125.0C492.0 132.5 493.3 139.7 492.0 145.0C490.7 150.3 487.3 154.0 483.0 157.0C478.7 160.0 471.8 161.3 466.0 163.0C460.2 164.7 455.7 164.8 448.0 167.0C440.3 169.2 430.5 173.3 420.0 176.0C409.5 178.7 394.3 182.3 385.0 183.0C375.7 183.7 367.7 184.2 364.0 180.0C360.3 175.8 362.3 166.0 363.0 158.0C363.7 150.0 365.7 140.7 368.0 132.0C370.3 123.3 374.7 113.3 377.0 106.0C379.3 98.7 380.2 93.7 382.0 88.0C383.8 82.3 385.7 76.2 388.0 72.0C390.3 67.8 393.3 64.8 396.0 63.0C398.7 61.2 398.3 60.6 404.0 61.0Z" fill="#e92a50" filter="url(#b2)"/>
<path d="M400.0 75.0C408.3 73.0 428.3 77.2 440.0 78.0C451.7 78.8 463.3 76.3 470.0 80.0C476.7 83.7 478.0 91.7 480.0 100.0C482.0 108.3 483.7 121.7 482.0 130.0C480.3 138.3 477.0 145.0 470.0 150.0C463.0 155.0 451.7 156.7 440.0 160.0C428.3 163.3 410.3 170.0 400.0 170.0C389.7 170.0 381.3 168.3 378.0 160.0C374.7 151.7 378.0 131.7 380.0 120.0C382.0 108.3 386.7 97.5 390.0 90.0C393.3 82.5 391.7 77.0 400.0 75.0Z" fill="#ec3862" opacity="0.8" filter="url(#b5)"/>
<ellipse cx="432" cy="122" rx="36" ry="26" fill="#f27090" opacity="0.5" filter="url(#b5)"/>
<ellipse cx="418" cy="110" rx="26" ry="22" fill="#f27292" opacity="0.55" filter="url(#b5)"/>
<ellipse cx="470" cy="112" rx="16" ry="26" fill="#f27292" opacity="0.45" filter="url(#b5)"/>
<ellipse cx="412" cy="86" rx="20" ry="9" fill="#f27292" opacity="0.5" filter="url(#b5)"/>
<ellipse cx="445" cy="82" rx="24" ry="9" fill="#f27292" opacity="0.45" filter="url(#b5)"/>
<ellipse cx="428" cy="158" rx="26" ry="10" fill="#f27292" opacity="0.4" filter="url(#b5)"/>
<ellipse cx="398" cy="140" rx="12" ry="14" fill="#f27292" opacity="0.35" filter="url(#b5)"/>
<ellipse cx="393" cy="115" rx="19" ry="15" fill="url(#hs)" opacity="1"/>
<ellipse cx="471" cy="138" rx="22" ry="16.5" fill="url(#hs)" opacity="1"/>
<ellipse cx="382" cy="170" rx="21" ry="13" fill="url(#hs)" opacity="1"/>
<ellipse cx="474" cy="89" rx="17" ry="14" fill="url(#hs)" opacity="0.8"/>
</g>
<rect x="537.3" y="24.8" width="6" height="143" fill="#05081e"/>
<rect x="538.1" y="25.5" width="4.4" height="141.6" fill="url(#cbar)"/>
<g fill="#000">
<rect x="343.4" y="7" width="49.2" height="31.8" rx="1.2"/>
<rect x="343.4" y="41" width="49.2" height="15.4" rx="1.2"/>
<rect x="343.4" y="59.1" width="49.2" height="15.7" rx="1.2"/>
<rect x="395.2" y="7" width="13.4" height="15" rx="1.2"/>
<rect x="516.2" y="7" width="28" height="15.4" rx="1.2"/>
<rect x="516.2" y="170.5" width="28" height="15.2" rx="1.2"/>
</g>
<g class="san" fill="#adadad" font-size="9">
<text x="345.2" y="18.7" transform="translate(345.2 0) scale(0.82 1) translate(-345.2 0)">box</text>
<text x="345.2" y="35.6" transform="translate(345.2 0) scale(0.82 1) translate(-345.2 0)">max</text>
<text x="345.2" y="52.4" transform="translate(345.2 0) scale(0.82 1) translate(-345.2 0)">spot</text>
<text x="345.2" y="71" transform="translate(345.2 0) scale(0.82 1) translate(-345.2 0)">&#916; s</text>
</g>
<g class="san" fill="#e4e4e4" font-size="12.5" text-anchor="end">
<text x="391.6" y="36.4" transform="translate(391.6 0) scale(0.85 1) translate(-391.6 0)">~50.7</text>
<text x="391.6" y="53.2" transform="translate(391.6 0) scale(0.85 1) translate(-391.6 0)">~48.0</text>
<text x="391.6" y="71.5" transform="translate(391.6 0) scale(0.85 1) translate(-391.6 0)">~2.7</text>
</g>
<text class="san" x="401.9" y="18.2" font-size="10" fill="#f2f2f2" text-anchor="middle">&#176;C</text>
<g class="san" fill="#f4f4f4" font-size="11.5" font-weight="bold" text-anchor="middle">
<text x="530.2" y="19">51.5</text><text x="530.2" y="182.4">21.5</text></g>
<path d="M408.2 75V68.6H414.2M471.9 68.6H477.9V75.2M408.2 114.7V121.9H414.2M471.9 121.9H477.9V114.7" fill="none" stroke="#d8d8d8" stroke-width="1.1"/>
<g fill="none" stroke="#c8c0c0" stroke-width="2.2" opacity="0.6"><circle cx="444.4" cy="97.1" r="2.5"/><path d="M435.2 97.1H441.9M446.9 97.1H453.4M444.4 86V94.6M444.4 99.6V108"/></g>
<g fill="none" stroke="#7c7c7c" stroke-width="1.3"><circle cx="444.4" cy="97.1" r="2.5"/><path d="M435.2 97.1H441.9M446.9 97.1H453.4M444.4 86V94.6M444.4 99.6V108"/></g>
<circle cx="463.1" cy="90.1" r="2.6" fill="#fbe6e0" stroke="#7c0810" stroke-width="1.4"/>
<path d="M463.1 80.2V87.5M463.1 92.7V100.5M465.7 90.1H471.7" stroke="#7c0810" stroke-width="1.5" fill="none"/>
<rect x="454.5" y="85" width="6" height="10.3" rx="1.5" fill="#0a0a0a"/>
<text class="san" x="457.5" y="93.2" font-size="8" fill="#e8e8e8" text-anchor="middle">P</text>
<path d="M347.3 173.9L351.2 178.2L351.2 181.8L347.3 186.1L343.4 181.8L343.4 178.2ZM347.3 176.9L345.4 179.1V180.9L347.3 183.1L349.2 180.9V179.1Z" fill="#ffffff" fill-rule="evenodd"/>
<text class="san" x="352" y="184.3" font-size="11" font-weight="bold" fill="#ffffff" stroke="#ffffff" stroke-width="0.6" letter-spacing="0.3">FLIR</text>
<!-- captions -->
<text class="ser" font-size="12" fill="#1a1a1a" x="160" y="284.8">(a)</text>
<text class="ser" font-size="12" fill="#1a1a1a" x="436.5" y="284.8">(b)</text>
</svg>
</body></html>
